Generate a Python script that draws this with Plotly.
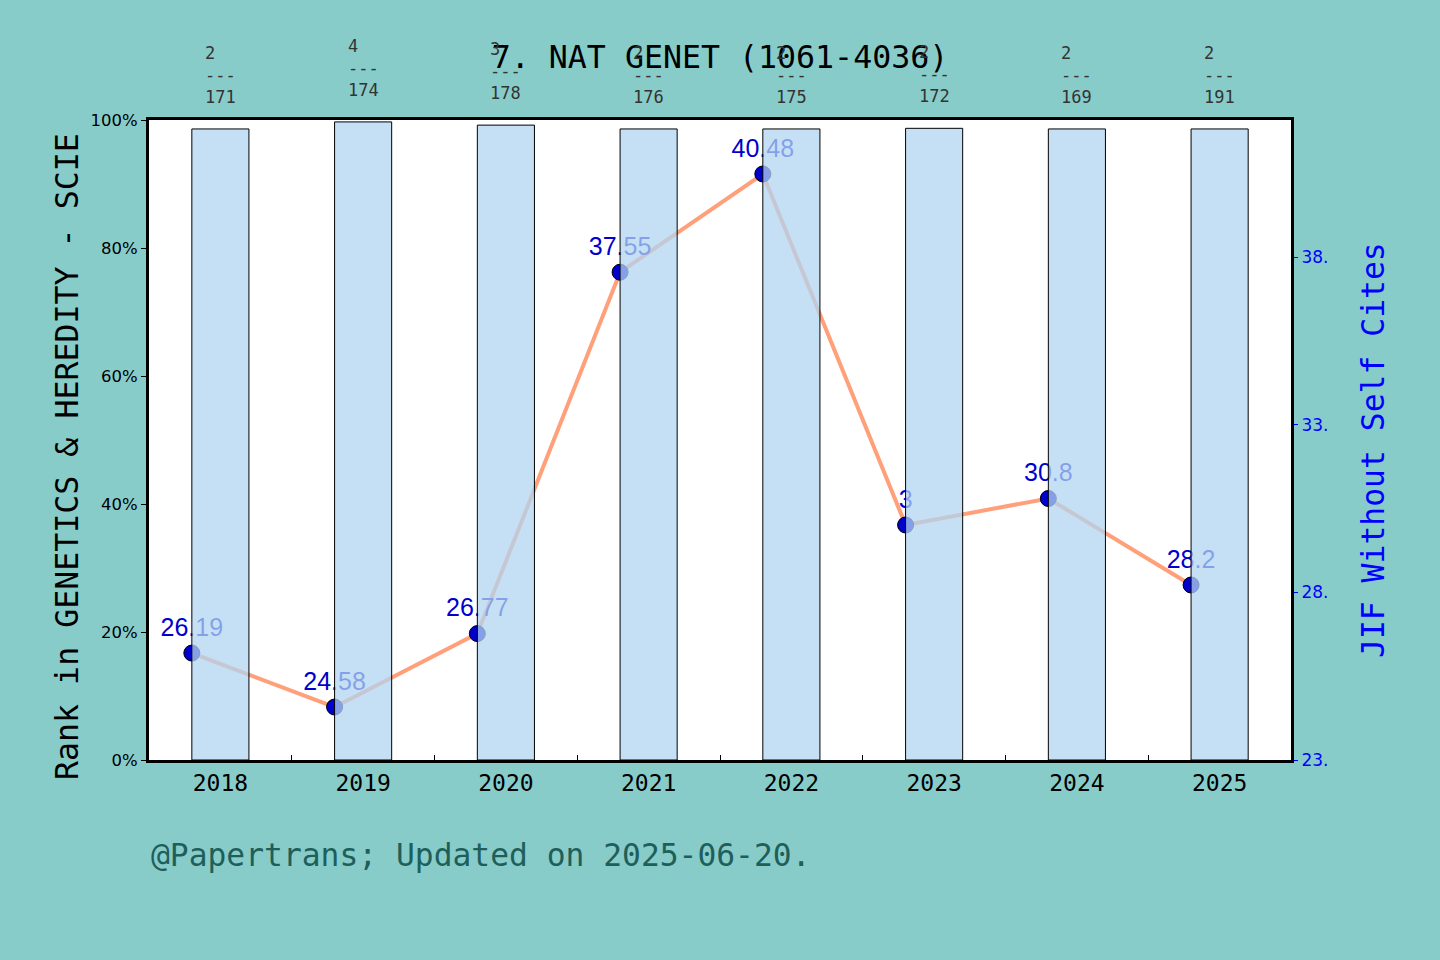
import plotly.graph_objects as go

years = ["2018", "2019", "2020", "2021", "2022", "2023", "2024", "2025"]
rank_pct = [0.986, 0.997, 0.992, 0.986, 0.986, 0.987, 0.986, 0.986]
ranks = ["2", "4", "3", "2", "2", "2", "2", "2"]
totals = ["171", "174", "178", "176", "175", "172", "169", "191"]
jif = [26.19, 24.58, 26.77, 37.55, 40.48, 30.01, 30.80, 28.22]
jif_labels = ["26.19", "24.58", "26.77", "37.55", "40.48", "3", "30.8", "28.2"]
jif_ticks = [23, 28, 33, 38]
jif_ticktext = ["23.", "28.", "33.", "38."]

MONO = "DejaVu Sans Mono"

idx = list(range(len(years)))

fig = go.Figure()

fig.add_trace(go.Scatter(
    x=[i - 0.2 for i in idx], y=jif, yaxis="y",
    mode="lines+markers+text",
    line=dict(color="#FFA07A", width=4),
    marker=dict(size=16, color="#0000CD", line=dict(color="black", width=1)),
    text=jif_labels, textposition="top center",
    textfont=dict(family="Liberation Sans", size=25, color="#0000CD"),
    showlegend=False, cliponaxis=False,
))

fig.add_trace(go.Bar(
    x=idx, y=rank_pct, yaxis="y2", width=0.4,
    marker=dict(color="rgba(178,214,242,0.75)", line=dict(color="black", width=1)),
    showlegend=False,
))

annotations = []
for i, r, t, v in zip(idx, ranks, totals, rank_pct):
    annotations.append(dict(
        x=i, y=v, xref="x", yref="y2", yanchor="bottom", yshift=20,
        text=f"{r}<br>---<br>{t}", showarrow=False, align="left",
        font=dict(family=MONO, size=17, color="#333333"),
    ))
annotations += [
    dict(x=0, y=-0.148, xref="paper", yref="paper", xanchor="left", yanchor="middle",
         text="@Papertrans; Updated on 2025-06-20.", showarrow=False,
         font=dict(family=MONO, size=31.3, color="#1E5F5A")),
    dict(x=(67 - 149) / 1142, y=(760 - 457) / 640, xref="paper", yref="paper",
         xanchor="center", yanchor="middle", textangle=-90, showarrow=False,
         text="Rank in GENETICS & HEREDITY - SCIE",
         font=dict(family=MONO, size=31.6, color="black")),
    dict(x=(1373 - 149) / 1142, y=(760 - 450) / 640, xref="paper", yref="paper",
         xanchor="center", yanchor="middle", textangle=-90, showarrow=False,
         text="JIF Without Self Cites",
         font=dict(family=MONO, size=31.4, color="#0000FF")),
]

fig.update_layout(
    width=1440, height=960,
    paper_bgcolor="#88CCCA", plot_bgcolor="white",
    margin=dict(l=149, r=149, t=120, b=200),
    title=dict(text="7. NAT GENET (1061-4036)", x=0.5, xanchor="center",
               y=1 - 57 / 960, yanchor="middle", yref="container",
               font=dict(family=MONO, size=31.6, color="black")),
    xaxis=dict(
        range=[-0.5, 7.5], tickmode="array", tickvals=idx, ticktext=years,
        ticks="", showgrid=False, zeroline=False,
        showline=True, linewidth=3, linecolor="black", mirror=True,
        tickfont=dict(family=MONO, size=23, color="black"),
        minor=dict(tickmode="array", tickvals=[i + 0.5 for i in idx[:-1]],
                   ticks="inside", ticklen=5, tickcolor="black", tickwidth=1),
    ),
    yaxis=dict(
        side="right", range=[23, 42.09], tickmode="array",
        tickvals=jif_ticks, ticktext=jif_ticktext,
        ticks="outside", ticklen=4, tickcolor="#0000FF",
        showgrid=False, zeroline=False,
        showline=True, linewidth=3, linecolor="black",
        tickfont=dict(family="DejaVu Sans", size=17, color="#0000FF"),
    ),
    yaxis2=dict(
        side="left", overlaying="y", range=[0, 1], tickformat=".0%",
        tickmode="array", tickvals=[0, 0.2, 0.4, 0.6, 0.8, 1.0],
        ticks="outside", ticklen=5, tickcolor="black",
        showgrid=False, zeroline=False,
        showline=True, linewidth=3, linecolor="black",
        tickfont=dict(family="DejaVu Sans", size=16.5, color="black"),
    ),
    annotations=annotations,
)

fig.write_html("out.html", config={"displayModeBar": False},
               post_script="document.body.style.margin='0';")
